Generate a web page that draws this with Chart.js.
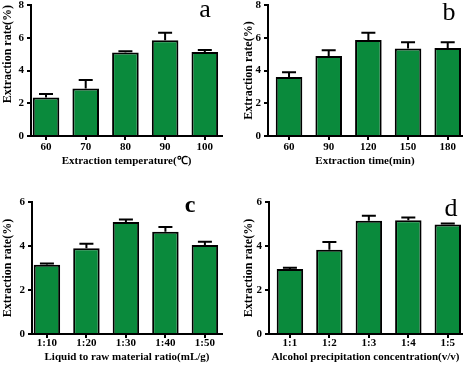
<!DOCTYPE html>
<html lang="en">
<head>
<meta charset="UTF-8">
<title>Extraction rate panels</title>
<script src="https://cdn.jsdelivr.net/npm/chart.js"></script>
<style>
  body { margin: 0; background: #fff; }
  #wrap { position: relative; width: 474px; height: 367px; overflow: hidden; }
  #wrap canvas { position: absolute; }
</style>
</head>
<body>
<div id="wrap">
  <canvas id="chartA"></canvas>
  <canvas id="chartB"></canvas>
  <canvas id="chartC"></canvas>
  <canvas id="chartD"></canvas>
</div>
<script>
// data (mean and upper error)
var tempLabels = ['60', '70', '80', '90', '100'];
var tempRate = [2.35, 2.9, 5.1, 5.85, 5.13];
var tempErr = [0.22, 0.52, 0.08, 0.45, 0.12];

var timeLabels = ['60', '90', '120', '150', '180'];
var timeRate = [3.6, 4.89, 5.87, 5.34, 5.38];
var timeErr = [0.3, 0.34, 0.44, 0.38, 0.34];

var ratioLabels = ['1:10', '1:20', '1:30', '1:40', '1:50'];
var ratioRate = [3.15, 3.9, 5.09, 4.65, 4.04];
var ratioErr = [0.05, 0.2, 0.12, 0.21, 0.15];

var alcLabels = ['1:1', '1:2', '1:3', '1:4', '1:5'];
var alcRate = [2.96, 3.83, 5.15, 5.17, 4.98];
var alcErr = [0.05, 0.35, 0.23, 0.13, 0.04];

var serif = "'Liberation Serif', 'Times New Roman', serif";
var green = '#0a8a3c';

// upper error bars, drawn from the bar scales
var errorBarPlugin = {
    id: 'errorBars',
    afterDatasetsDraw: function(chart) {
        var errs = chart.options.plugins.errorBars.errors;
        var meta = chart.getDatasetMeta(0);
        var yScale = chart.scales.y;
        var vals = chart.data.datasets[0].data;
        var ctx = chart.ctx;
        ctx.save();
        ctx.strokeStyle = '#000';
        ctx.lineWidth = 2;
        meta.data.forEach(function(bar, i) {
            var top = yScale.getPixelForValue(vals[i].y + errs[i]);
            ctx.beginPath();
            ctx.moveTo(bar.x, bar.y);
            ctx.lineTo(bar.x, top);
            ctx.moveTo(bar.x - 7, top);
            ctx.lineTo(bar.x + 7, top);
            ctx.stroke();
        });
        ctx.restore();
    }
};

// panel letter in the corner
var letterPlugin = {
    id: 'panelLetter',
    afterDraw: function(chart) {
        var o = chart.options.plugins.panelLetter;
        var ctx = chart.ctx;
        ctx.save();
        ctx.font = o.weight + ' ' + o.size + 'px ' + serif;
        ctx.fillStyle = '#000';
        ctx.textAlign = 'center';
        ctx.textBaseline = 'alphabetic';
        ctx.fillText(o.text, o.x, o.y);
        ctx.restore();
    }
};

function makePanel(id, p) {
    var el = document.getElementById(id);
    var extra = 15;
    el.width = 237;
    el.height = p.height + extra;
    el.style.left = p.left + 'px';
    el.style.top = (p.top - extra) + 'px';

    var points = p.values.map(function(v, i) { return { x: i, y: v }; });

    new Chart(el.getContext('2d'), {
        type: 'bar',
        data: {
            datasets: [{
                data: points,
                backgroundColor: green,
                borderColor: '#000',
                borderWidth: 2,
                borderSkipped: 'start',
                barPercentage: 0.67,
                categoryPercentage: 1
            }]
        },
        plugins: [errorBarPlugin, letterPlugin],
        options: {
            responsive: false,
            animation: false,
            layout: {
                padding: {
                    top: p.plotTop - p.top + extra,
                    right: 237 - (p.right - p.left),
                    bottom: p.padBottom,
                    left: 0
                }
            },
            plugins: {
                legend: { display: false },
                tooltip: { enabled: false },
                errorBars: { errors: p.errors },
                panelLetter: {
                    text: p.letter, x: p.letterX - p.left, y: p.letterY - p.top + extra,
                    size: p.letterSize, weight: p.letterWeight
                }
            },
            scales: {
                x: {
                    type: 'linear',
                    offset: false,
                    min: p.xMin,
                    max: p.xMax,
                    afterBuildTicks: function(scale) {
                        scale.ticks = p.labels.map(function(_, i) { return { value: i }; });
                    },
                    afterFit: function(scale) { scale.height = p.xHeight; },
                    border: { display: true, color: '#000', width: 2 },
                    grid: { offset: false, drawOnChartArea: false, drawTicks: true, tickLength: 4, color: '#000', lineWidth: 2 },
                    ticks: {
                        color: '#000',
                        padding: p.xTickPad,
                        maxRotation: 0,
                        autoSkip: false,
                        font: { family: serif, size: 11, weight: 'bold' },
                        callback: function(v) { return p.labels[v]; }
                    },
                    title: {
                        display: true,
                        text: p.xTitle,
                        color: '#000',
                        padding: 0,
                        font: { family: serif, size: 11, weight: 'bold' }
                    }
                },
                y: {
                    min: 0,
                    max: p.yMax,
                    afterFit: function(scale) { scale.width = p.axisX - p.left; },
                    border: { display: true, color: '#000', width: 2 },
                    grid: { drawOnChartArea: false, drawTicks: true, tickLength: 4, color: '#000', lineWidth: 2 },
                    ticks: {
                        stepSize: 2,
                        color: '#000',
                        padding: 3,
                        font: { family: serif, size: 11, weight: 'bold' }
                    },
                    title: {
                        display: true,
                        text: 'Extraction rate(%)',
                        color: '#000',
                        align: p.yTitleAlign,
                        padding: { top: p.yTitlePad, bottom: 0 },
                        font: { family: serif, size: 12, weight: 'bold' }
                    }
                }
            }
        }
    });
}

makePanel('chartA', {
    left: 0, top: 0, height: 184, axisX: 31, right: 222, plotTop: 5,
    xHeight: 32, padBottom: 16, xTickPad: 1, xMin: -0.378, xMax: 4.433, yMax: 8,
    yTitlePad: 1, yTitleAlign: 'end',
    labels: tempLabels, values: tempRate, errors: tempErr,
    xTitle: 'Extraction temperature(\u2103)',
    letter: 'a', letterX: 205, letterY: 17, letterSize: 26, letterWeight: 'normal'
});

makePanel('chartB', {
    left: 237, top: 0, height: 184, axisX: 268, right: 462, plotTop: 5,
    xHeight: 32, padBottom: 16, xTickPad: 1, xMin: -0.53, xMax: 4.36, yMax: 8,
    yTitlePad: 5, yTitleAlign: 'center',
    labels: timeLabels, values: timeRate, errors: timeErr,
    xTitle: 'Extraction time(min)',
    letter: 'b', letterX: 449, letterY: 20, letterSize: 26, letterWeight: 'normal'
});

makePanel('chartC', {
    left: 0, top: 184, height: 183, axisX: 32, right: 222, plotTop: 202,
    xHeight: 30, padBottom: 3, xTickPad: -1, xMin: -0.378, xMax: 4.433, yMax: 6,
    yTitlePad: 1, yTitleAlign: 'center',
    labels: ratioLabels, values: ratioRate, errors: ratioErr,
    xTitle: 'Liquid to raw material ratio(mL/g)',
    letter: 'c', letterX: 190, letterY: 212, letterSize: 24, letterWeight: 'bold'
});

makePanel('chartD', {
    left: 237, top: 184, height: 183, axisX: 269, right: 462, plotTop: 202,
    xHeight: 30, padBottom: 3, xTickPad: -1, xMin: -0.53, xMax: 4.36, yMax: 6,
    yTitlePad: 5, yTitleAlign: 'center',
    labels: alcLabels, values: alcRate, errors: alcErr,
    xTitle: 'Alcohol precipitation concentration(v/v)',
    letter: 'd', letterX: 451, letterY: 216, letterSize: 26, letterWeight: 'normal'
});
</script>
</body>
</html>
